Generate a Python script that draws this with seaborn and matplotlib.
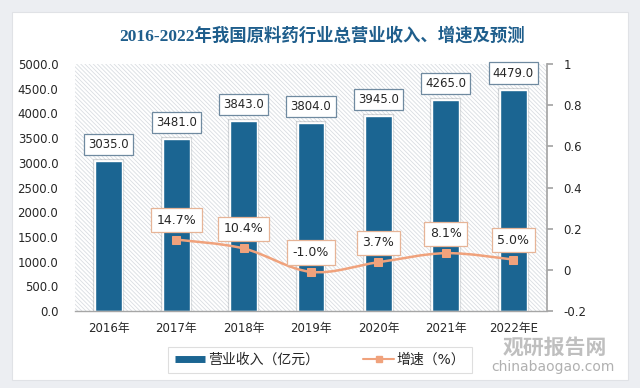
import numpy as np
import pandas as pd
import seaborn as sns
import matplotlib.pyplot as plt
import matplotlib.patches as mpatches
import matplotlib.patheffects as pe
from matplotlib.path import Path
from matplotlib.lines import Line2D

# data
years = ['2016年', '2017年', '2018年', '2019年', '2020年', '2021年', '2022年E']
revenue = [3035.0, 3481.0, 3843.0, 3804.0, 3945.0, 4265.0, 4479.0]
growth = [np.nan, 0.147, 0.104, -0.010, 0.037, 0.081, 0.050]
growth_labels = ['', '14.7%', '10.4%', '-1.0%', '3.7%', '8.1%', '5.0%']
left_ticks = [0, 500, 1000, 1500, 2000, 2500, 3000, 3500, 4000, 4500, 5000]
right_ticks = [-0.2, 0, 0.2, 0.4, 0.6, 0.8, 1]
right_tick_labels = ['-0.2', '0', '0.2', '0.4', '0.6', '0.8', '1']

bar_col = '#1b6592'
line_col = '#f0a27c'
txt_col = '#262626'

sns.set_theme(style='white')
plt.rcParams['font.family'] = ['DejaVu Sans', 'Noto Sans CJK SC']
plt.rcParams['hatch.linewidth'] = 0.6
plt.rcParams['hatch.color'] = '#d9dde2'

fig = plt.figure(figsize=(6.4, 3.88), dpi=100)
fig.patch.set_facecolor('#eceef2')
W, H = 640.0, 388.0
card = mpatches.Rectangle((12 / W, 1 - 380 / H), 616 / W, 368 / H, transform=fig.transFigure,
                          facecolor='white', edgecolor='#e0e2e6', lw=0.8, zorder=-5)
fig.patches.append(card)

ax = fig.add_axes([75 / W, 1 - 311 / H, 472 / W, 247 / H])
ax.patch.set_alpha(0)
ax.add_patch(mpatches.Rectangle((0, 0), 1, 1, transform=ax.transAxes, facecolor='white',
                                hatch='\\\\\\\\\\\\\\\\', edgecolor='#d9dde2', lw=0, zorder=0))

df = pd.DataFrame({'year': years, 'revenue': revenue})
sns.barplot(data=df, x='year', y='revenue', color=bar_col, saturation=1, width=0.4, ax=ax, zorder=2)
for bar in ax.patches[1:]:
    bar.set_path_effects([pe.Stroke(linewidth=3, foreground='#8f969c', alpha=0.35),
                          pe.Stroke(linewidth=1.2, foreground='white'), pe.Normal()])

ax.set_xlim(-0.5, len(years) - 0.5)
ax.set_ylim(0, 5000)
ax.set_yticks(left_ticks)
ax.set_yticklabels(['%.1f' % t for t in left_ticks])
ax.set_xlabel('')
ax.set_ylabel('')
ax.tick_params(axis='y', length=0, labelsize=8.5, labelcolor=txt_col, pad=12)
ax.tick_params(axis='x', length=0, labelsize=8.5, labelcolor=txt_col, pad=8)
for s in ['left', 'top', 'right']:
    ax.spines[s].set_visible(False)
ax.spines['bottom'].set_color('#a6a6a6')
ax.spines['bottom'].set_linewidth(1)

for i, v in enumerate(revenue):
    ax.annotate('%.1f' % v, (i, v), xytext=(0, 12), textcoords='offset points',
                ha='center', va='center', fontsize=8.5, color=txt_col, zorder=5,
                bbox=dict(boxstyle='square,pad=0.35', fc='white', ec='#6f8aa0', lw=0.9))

# growth line on the right axis
ax2 = ax.twinx()
ax2.set_ylim(-0.2, 1)
ax2.set_yticks(right_ticks)
ax2.set_yticklabels(right_tick_labels)
ax2.tick_params(axis='y', direction='out', length=4, color='#a6a6a6', labelsize=8.5,
                labelcolor=txt_col, pad=8)
for s in ['left', 'top', 'bottom']:
    ax2.spines[s].set_visible(False)
ax2.spines['right'].set_color('#a6a6a6')

xs = np.arange(len(years))
pts = [(x, y) for x, y in zip(xs, growth) if not np.isnan(y)]
verts = [pts[0]]
codes = [Path.MOVETO]
for k in range(len(pts) - 1):
    p0 = np.array(pts[max(k - 1, 0)])
    p1 = np.array(pts[k])
    p2 = np.array(pts[k + 1])
    p3 = np.array(pts[min(k + 2, len(pts) - 1)])
    verts += [tuple(p1 + (p2 - p0) / 6), tuple(p2 - (p3 - p1) / 6), tuple(p2)]
    codes += [Path.CURVE4] * 3
ax2.add_patch(mpatches.PathPatch(Path(verts, codes), fill=False, edgecolor=line_col, lw=1.8, zorder=3))

gdf = pd.DataFrame({'x': xs, 'growth': growth}).dropna()
sns.lineplot(data=gdf, x='x', y='growth', ax=ax2, linestyle='', marker='s', markersize=6,
             color=line_col, markeredgecolor=line_col, zorder=4)
ax2.set_xlim(-0.5, len(years) - 0.5)
ax2.set_xlabel('')
ax2.set_ylabel('')

for x, y, lab in zip(xs, growth, growth_labels):
    if np.isnan(y):
        continue
    ax2.annotate(lab, (x, y), xytext=(0, 14), textcoords='offset points',
                 ha='center', va='center', fontsize=9, color=txt_col, zorder=5,
                 bbox=dict(boxstyle='square,pad=0.45', fc='white', ec='#e6b497', lw=0.9))

fig.text(0.503, 1 - 36 / H, '2016-2022年我国原料药行业总营业收入、增速及预测', ha='center', va='center',
         fontsize=12.5, fontweight='bold', color='#1f5e8c',
         family=['Liberation Serif', 'Noto Sans CJK SC'])

handles = [Line2D([], [], color=bar_col, lw=5, solid_capstyle='butt'),
           Line2D([], [], color=line_col, lw=1.5, marker='s', markersize=5)]
leg = fig.legend(handles, ['营业收入（亿元）', '增速（%）'], loc='center', bbox_to_anchor=(0.5, 1 - 360 / H),
                 ncol=2, fontsize=10, frameon=True, fancybox=False, edgecolor='#d6d6d6',
                 handlelength=2.2, columnspacing=3.2, borderpad=0.45, handletextpad=0.2)
leg.get_frame().set_linewidth(0.8)
for t in leg.get_texts():
    t.set_color(txt_col)

fig.text(555 / W, 1 - 347 / H, '观研报告网', ha='center', va='center', fontsize=15, fontweight='bold',
         color='#b4b4b4', alpha=0.85, family=['Noto Sans CJK SC'])
fig.text(553 / W, 1 - 367 / H, 'chinabaogao.com', ha='center', va='center', fontsize=10,
         color='#a8a8a8', alpha=0.9)

fig.savefig('out.png', dpi=100, facecolor=fig.get_facecolor())
